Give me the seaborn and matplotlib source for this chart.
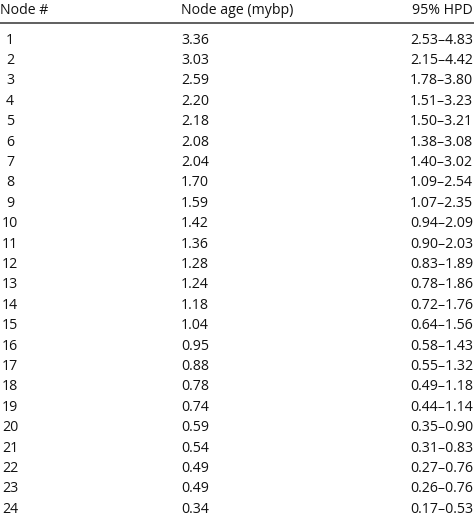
import matplotlib
matplotlib.use("Agg")
import matplotlib.pyplot as plt
import seaborn as sns

sns.set_style("white")
plt.rcParams['font.family'] = ['Open Sans', 'DejaVu Sans']

nodes = list(range(1, 25))
ages = [3.36, 3.03, 2.59, 2.20, 2.18, 2.08, 2.04, 1.70, 1.59, 1.42, 1.36, 1.28,
        1.24, 1.18, 1.04, 0.95, 0.88, 0.78, 0.74, 0.59, 0.54, 0.49, 0.49, 0.34]
hpd_low = [2.53, 2.15, 1.78, 1.51, 1.50, 1.38, 1.40, 1.09, 1.07, 0.94, 0.90, 0.83,
           0.78, 0.72, 0.64, 0.58, 0.55, 0.49, 0.44, 0.35, 0.31, 0.27, 0.26, 0.17]
hpd_high = [4.83, 4.42, 3.80, 3.23, 3.21, 3.08, 3.02, 2.54, 2.35, 2.09, 2.03, 1.89,
            1.86, 1.76, 1.56, 1.43, 1.32, 1.18, 1.14, 0.90, 0.83, 0.76, 0.76, 0.53]
headers = ["Node #", "Node age (mybp)", "95% HPD"]

fig = plt.figure(figsize=(4.74, 5.23), dpi=100)
ax = fig.add_axes([0, 0, 1, 1])
ax.set_xlim(0, 474)
ax.set_ylim(523, 0)
ax.axis("off")

fs = 10.2
ink = "#111111"
ax.text(0, 10, headers[0], fontsize=fs, va="center", ha="left", color=ink)
ax.text(181, 10, headers[1], fontsize=fs, va="center", ha="left", color=ink)
ax.text(473, 10, headers[2], fontsize=fs, va="center", ha="right", color=ink)
ax.axhline(23, color="#444444", lw=1.2)

for i, n in enumerate(nodes):
    y = 40 + i * 20.4
    ax.text(10, y, str(n), fontsize=fs, va="center", ha="center", color=ink)
    ax.text(181, y, f"{ages[i]:.2f}", fontsize=fs, va="center", ha="left", color=ink)
    ax.text(473, y, f"{hpd_low[i]:.2f}\u2013{hpd_high[i]:.2f}", fontsize=fs,
            va="center", ha="right", color=ink)

fig.savefig("out.png", dpi=100)
